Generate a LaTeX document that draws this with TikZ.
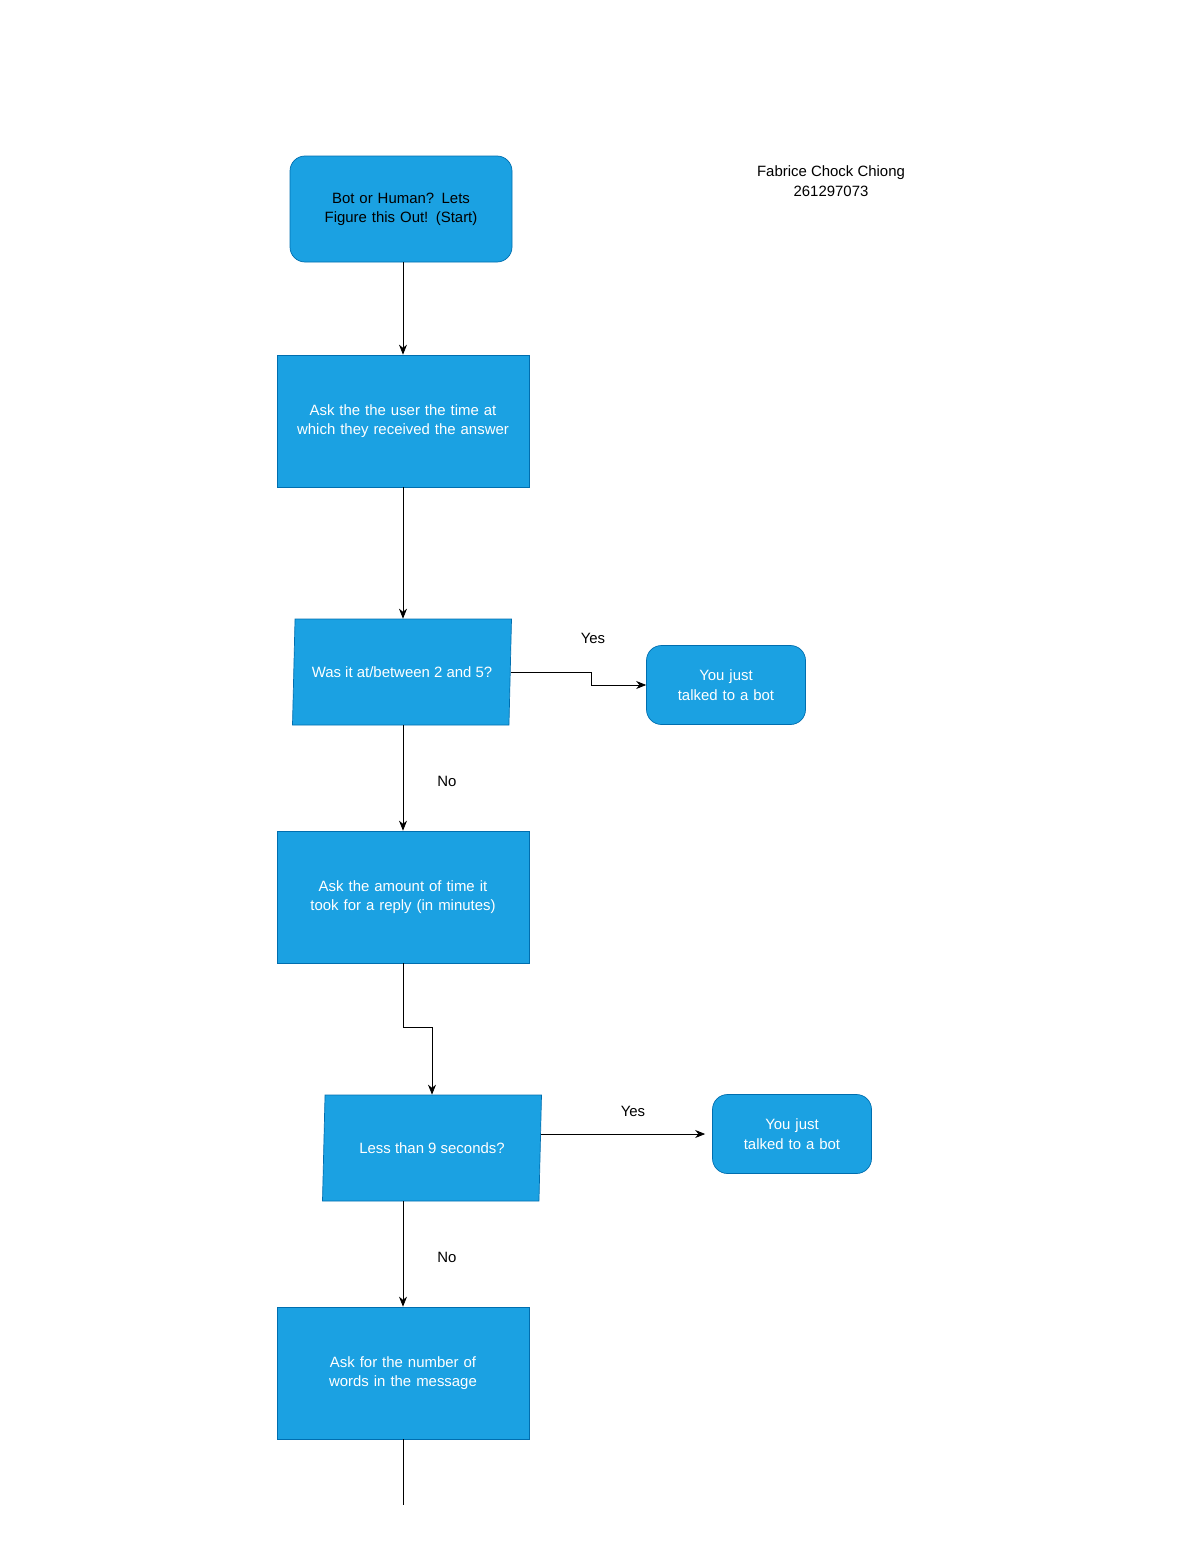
\documentclass[tikz,border=0pt]{standalone}
\usepackage{fontspec}
\setmainfont{Liberation Sans}
\usetikzlibrary{positioning}
\usetikzlibrary{shapes.geometric}
\usetikzlibrary{arrows.meta}
\definecolor{boxblue}{HTML}{1BA1E2}
\definecolor{boxline}{HTML}{006EAF}
\tikzset{
  action/.style={draw=boxline, fill=boxblue, text=white, minimum width=5.04cm, minimum height=2.64cm, text width=4.9cm, align=center, inner sep=1pt},
  term/.style={draw=boxline, fill=boxblue, rounded corners=0.3cm, align=center, inner sep=1pt},
  query/.style={draw=boxline, fill=boxblue, text=white, trapezium, trapezium left angle=77, trapezium right angle=103, trapezium stretches body, minimum width=4.38cm, minimum height=2.12cm, inner sep=0pt, align=center},
  flow/.style={-{Stealth[length=2mm,width=1.6mm]}, black},
}
\begin{document}
\begin{tikzpicture}[font=\fontsize{8.5}{11}\selectfont]
\useasboundingbox (0,0) rectangle (24,-31.06);

%%%%%%%%%% Boxes %%%%%%%%%%
\node[term, minimum width=4.44cm, minimum height=2.12cm, text width=4.2cm] (start) at (8.02,-4.18) {Bot or Human? Lets Figure this Out! (Start)};
\node[action] (asktime) at (8.06,-8.42) {Ask the the user the time at which they received the answer};
\node[query] (between) at (8.04,-13.44) {Was it at/between 2 and 5?};
\node[term, text=white, minimum width=3.18cm, minimum height=1.58cm, text width=3cm] (botone) at (14.52,-13.70) {You just talked to a bot};
\node[action] (askreply) at (8.06,-17.94) {Ask the amount of time it took for a reply (in minutes)};
\node[query] (seconds) at (8.64,-22.96) {Less than 9 seconds?};
\node[term, text=white, minimum width=3.18cm, minimum height=1.58cm, text width=3cm] (bottwo) at (15.84,-22.68) {You just talked to a bot};
\node[action] (askwords) at (8.06,-27.46) {Ask for the number of words in the message};
\coordinate (down) at (8.06,-30.10);

%%%%%%%%%% Author %%%%%%%%%%
\node[align=center] (author) at (16.62,-3.62) {Fabrice Chock Chiong\\261297073};

%%%%%%%%%% Connectors %%%%%%%%%%
\draw[flow] (start.south -| asktime) -- (asktime.north);
\draw[flow] (asktime) -- (between.north -| asktime);
\draw[flow] (between.east) -- ++(1.62,0) |- (botone.west);
\draw[flow] (between.south -| asktime) -- (askreply.north);
\draw[flow] (askreply.south) -- ++(0,-1.28) -| (seconds.north);
\draw[flow] (seconds.east |- bottwo) -- ([xshift=-0.14cm]bottwo.west);
\draw[flow] (seconds.south -| askwords) -- (askwords.north);
\draw (askwords.south) -- (down);

%%%%%%%%%% Labels %%%%%%%%%%
\node (yesone) at (11.86,-12.76) {Yes};
\node (noone) at (8.94,-15.62) {No};
\node (yestwo) at (12.66,-22.22) {Yes};
\node (notwo) at (8.94,-25.14) {No};
\end{tikzpicture}
\end{document}
